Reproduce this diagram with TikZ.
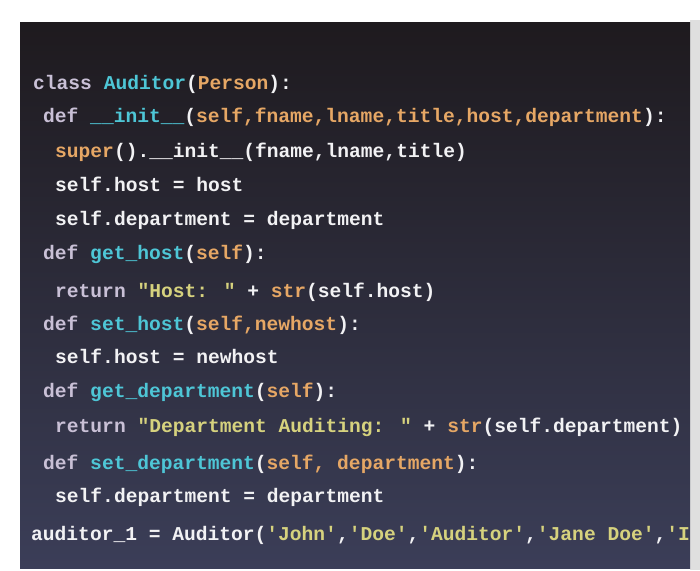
\documentclass[tikz,border=0pt]{standalone}
\usepackage{fontspec}
\newfontfamily\codefont{Liberation Mono}
\definecolor{kw}{HTML}{C9C0D6}
\definecolor{fn}{HTML}{4EC6D6}
\definecolor{pa}{HTML}{E6A765}
\definecolor{st}{HTML}{D6D27E}
\definecolor{tx}{HTML}{F2F2F4}
\definecolor{bgtop}{HTML}{1E1A1E}
\definecolor{bgbot}{HTML}{3B3E58}
\newcommand{\CK}[1]{\textcolor{kw}{#1}}
\newcommand{\CF}[1]{\textcolor{fn}{#1}}
\newcommand{\CP}[1]{\textcolor{pa}{#1}}
\newcommand{\CQ}[1]{\textcolor{st}{#1}}
\tikzset{code/.style={anchor=base west,inner sep=0pt,text=tx,font=\codefont\bfseries\fontsize{19.6}{20}\selectfont}}
\begin{document}
\begin{tikzpicture}[x=1pt,y=-1pt]
\useasboundingbox (0,0) rectangle (700,570);
\fill[white] (0,0) rectangle (700,570);
\fill[gray!25] (690,20) rectangle (700,570);
\shade[top color=bgtop,bottom color=bgbot] (20,22) rectangle (690,568);
\begin{scope}
\clip (20,22) rectangle (690,568);
\node[code] (l1) at (33,89) {\CK{class} \CF{Auditor}(\CP{Person}):};
\node[code] (l2) at (43,122) {\CK{def} \CF{\_\_init\_\_}(\CP{self,fname,lname,title,host,department}):};
\node[code] (l3) at (55,157) {\CP{super}().\_\_init\_\_(fname,lname,title)};
\node[code] (l4) at (55,191) {self.host = host};
\node[code] (l5) at (55,225) {self.department = department};
\node[code] (l6) at (43,259) {\CK{def} \CF{get\_host}(\CP{self}):};
\node[code] (l7) at (55,297) {\CK{return} \CQ{"Host: "} + \CP{str}(self.host)};
\node[code] (l8) at (43,330) {\CK{def} \CF{set\_host}(\CP{self,newhost}):};
\node[code] (l9) at (55,363) {self.host = newhost};
\node[code] (l10) at (43,397) {\CK{def} \CF{get\_department}(\CP{self}):};
\node[code] (l11) at (55,432) {\CK{return} \CQ{"Department Auditing: "} + \CP{str}(self.department)};
\node[code] (l12) at (43,469) {\CK{def} \CF{set\_department}(\CP{self, department}):};
\node[code] (l13) at (55,502) {self.department = department};
\node[code] (l14) at (31,540) {auditor\_1 = Auditor(\CQ{'John'},\CQ{'Doe'},\CQ{'Auditor'},\CQ{'Jane Doe'},\CQ{'I}};
\end{scope}
\end{tikzpicture}
\end{document}
